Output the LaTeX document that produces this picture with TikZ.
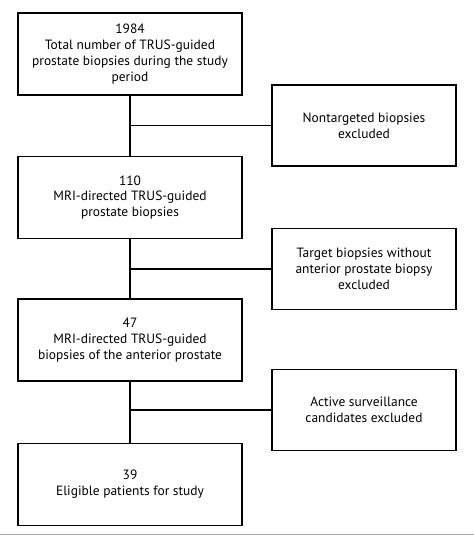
\documentclass[tikz,border=0pt]{standalone}
\usepackage{fontspec}
\setmainfont{PT Sans}
\usetikzlibrary{positioning}

\tikzset{
  stagebox/.style={draw, line width=1.2bp, minimum width=224bp, minimum height=82bp, align=center, inner sep=2bp, font=\fontsize{13.5}{16}\selectfont},
  dropbox/.style={stagebox, minimum width=184bp, minimum height=81bp},
  link/.style={line width=1.2bp}
}

\begin{document}
\begin{tikzpicture}[x=1bp, y=-1bp]
\useasboundingbox (0,0) rectangle (474,545);
\node[stagebox] (total) at (130,54) {1984\\Total number of TRUS-guided\\prostate biopsies during the study\\period};
\node[stagebox] (mri) at (130,197.5) {110\\MRI-directed TRUS-guided\\prostate biopsies};
\node[stagebox] (ant) at (130,340) {47\\MRI-directed TRUS-guided\\biopsies of the anterior prostate};
\node[stagebox] (elig) at (130,484.5) {39\\Eligible patients for study};
\node[dropbox] (nontarget) at (364,125.5) {Nontargeted biopsies\\excluded};
\node[dropbox] (noant) at (364,269) {Target biopsies without\\anterior prostate biopsy\\excluded};
\node[dropbox] (active) at (364,410) {Active surveillance\\candidates excluded};
\draw[link] (total) -- (mri);
\draw[link] (mri) -- (ant);
\draw[link] (ant) -- (elig);
\draw[link] (nontarget.west) -- (nontarget.west -| total.south);
\draw[link] (noant.west) -- (noant.west -| mri.south);
\draw[link] (active.west) -- (active.west -| ant.south);
\draw[gray!70, line width=1bp] (0,534) -- (474,534);
\end{tikzpicture}
\end{document}
